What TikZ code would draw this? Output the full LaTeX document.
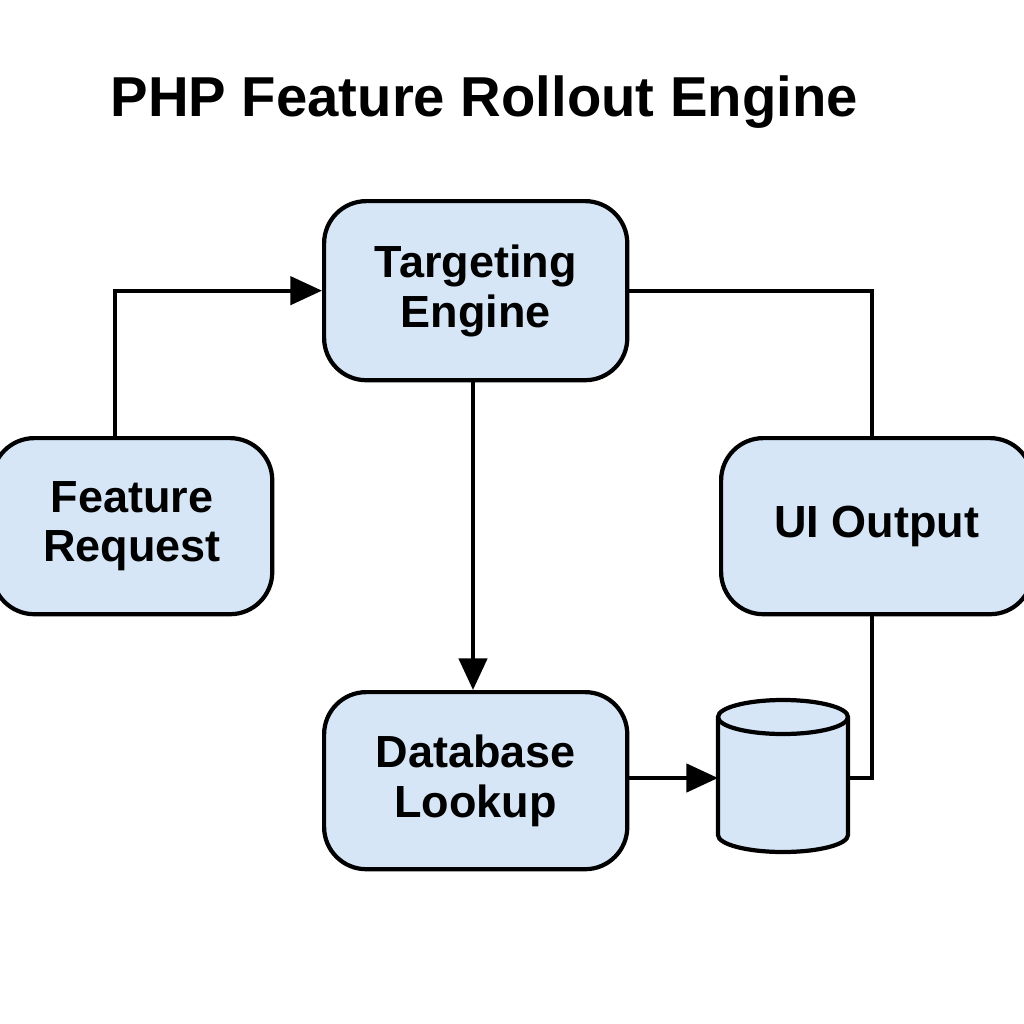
\documentclass[tikz,border=0pt]{standalone}
\usepackage{fontspec}
\setmainfont{Liberation Sans}
\usetikzlibrary{arrows.meta}
\definecolor{boxfill}{HTML}{D6E6F7}
\begin{document}
\begin{tikzpicture}[x=0.01cm,y=-0.01cm,
  box/.style={draw,line width=1.2pt,fill=boxfill,rounded corners=12pt,align=center,font=\fontsize{12.8}{14.2}\selectfont\bfseries,anchor=north west},
  ln/.style={line width=1.2pt},
  ar/.style={ln,-{Triangle[length=9pt,width=8pt]}}]
\useasboundingbox (0,0) rectangle (1024,1024);
\clip (0,0) rectangle (1024,1024);
\fill[white] (0,0) rectangle (1024,1024);
\node[font=\fontsize{16}{19}\selectfont\bfseries,anchor=west,inner sep=0pt] (title) at (110,102) {PHP Feature Rollout Engine};
\node[box,minimum width=3.03cm,minimum height=1.79cm] (te) at (322,199) {Targeting\\Engine};
\node[box,minimum width=2.8cm,minimum height=1.76cm] (fr) at (-10,436) {Feature\\Request};
\node[box,minimum width=3.11cm,minimum height=1.76cm] (ui) at (719,436) {UI Output};
\node[box,minimum width=3.03cm,minimum height=1.77cm] (db) at (322,690) {Database\\Lookup};
\draw[ln,fill=boxfill] (718,717) -- (718,835) arc[start angle=180,end angle=0,x radius=65,y radius=17] -- (848,717) arc[start angle=0,end angle=-180,x radius=65,y radius=17] -- cycle;
\draw[ln] (718,717) arc[start angle=180,end angle=0,x radius=65,y radius=17];
\coordinate (cylL) at (718,778);
\coordinate (cylR) at (848,778);
\draw[ar] (fr.north -| 115,0) |- (te.west);
\draw[ar] (te.south -| 473,0) -- (db.north -| 473,0);
\draw[ar] (db.east |- cylL) -- (cylL);
\draw[ln] (cylR) -| (ui.south -| 872,0);
\draw[ln] (te.east) -| (ui.north -| 872,0);
\end{tikzpicture}
\end{document}
